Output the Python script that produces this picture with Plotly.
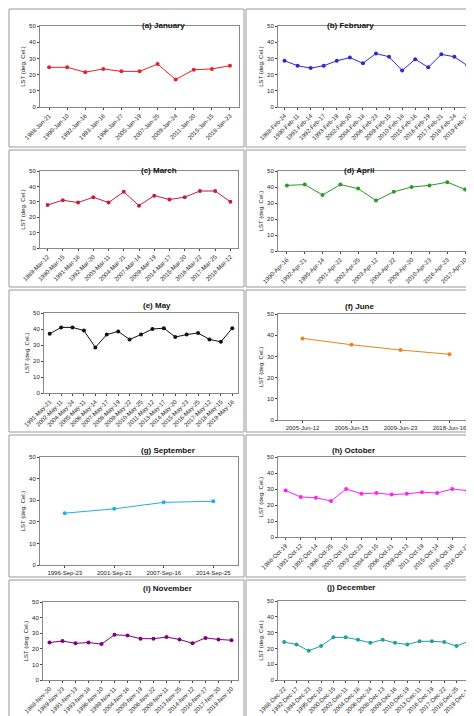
import plotly.graph_objects as go

W, H = 474, 716

jan_dates = ["1988-Jan-21", "1990-Jan-10", "1992-Jan-16", "1993-Jan-18", "1996-Jan-27", "2005-Jan-19",
             "2007-Jan-25", "2009-Jan-24", "2011-Jan-20", "2015-Jan-15", "2018-Jan-23"]
jan_lst = [24.5, 24.5, 21.5, 23.5, 22, 22, 26.5, 17, 23, 23.5, 25.5]

feb_dates = ["1988-Feb-24", "1990-Feb-11", "1991-Feb-14", "1992-Feb-17", "1993-Feb-19", "2002-Feb-20",
             "2004-Feb-18", "2006-Feb-23", "2009-Feb-15", "2010-Feb-18", "2015-Feb-16", "2016-Feb-19",
             "2017-Feb-21", "2018-Feb-24", "2019-Feb-11"]
feb_lst = [28.5, 25.5, 24, 25.5, 28.5, 30.5, 27, 33, 31, 22.5, 29.5, 24.5, 32.5, 31, 25.5]

mar_dates = ["1989-Mar-12", "1990-Mar-15", "1991-Mar-18", "1992-Mar-20", "2003-Mar-11", "2004-Mar-21",
             "2007-Mar-14", "2009-Mar-19", "2014-Mar-17", "2015-Mar-20", "2016-Mar-22", "2017-Mar-25",
             "2018-Mar-12"]
mar_lst = [28, 31, 29.5, 33, 29.5, 36.5, 27.5, 34, 31.5, 33, 37, 37, 30]

apr_dates = ["1990-Apr-16", "1992-Apr-21", "1995-Apr-14", "2001-Apr-22", "2002-Apr-25", "2003-Apr-12",
             "2004-Apr-22", "2009-Apr-20", "2010-Apr-23", "2016-Apr-23", "2017-Apr-10"]
apr_lst = [41, 41.5, 35, 41.5, 39, 31.5, 37, 40, 41, 43, 38.5]

may_dates = ["1991-May-21", "2002-May-11", "2004-May-24", "2005-May-11", "2006-May-14", "2007-May-17",
             "2008-May-19", "2009-May-22", "2010-May-25", "2011-May-12", "2013-May-17", "2014-May-20",
             "2015-May-23", "2016-May-25", "2017-May-12", "2018-May-15", "2019-May-18"]
may_lst = [37, 41, 41, 39, 28.5, 36.5, 38.5, 33.5, 36.5, 40, 40.5, 35, 36.5, 37.5, 33.5, 32, 40.5]

jun_dates = ["2005-Jun-12", "2006-Jun-15", "2009-Jun-23", "2018-Jun-16"]
jun_lst = [38.5, 35.5, 33, 31]

sep_dates = ["1996-Sep-23", "2001-Sep-21", "2007-Sep-16", "2014-Sep-25"]
sep_lst = [24, 26, 29, 29.5]

oct_dates = ["1988-Oct-19", "1991-Oct-12", "1992-Oct-14", "1996-Oct-25", "2001-Oct-15", "2003-Oct-23",
             "2004-Oct-15", "2006-Oct-21", "2009-Oct-13", "2011-Oct-19", "2015-Oct-14", "2016-Oct-16",
             "2018-Oct-22"]
oct_lst = [29, 25, 24.5, 22.5, 30, 27, 27.5, 26.5, 27, 28, 27.5, 30, 29]

nov_dates = ["1988-Nov-20", "1989-Nov-23", "1991-Nov-13", "1993-Nov-18", "1996-Nov-10", "1999-Nov-11",
             "2004-Nov-16", "2005-Nov-19", "2006-Nov-22", "2008-Nov-11", "2013-Nov-25", "2014-Nov-12",
             "2016-Nov-17", "2017-Nov-20", "2019-Nov-10"]
nov_lst = [24, 25, 23.5, 24, 23, 29, 28.5, 26.5, 26.5, 27.5, 26, 23.5, 27, 26, 25.5]

dec_dates = ["1988-Dec-22", "1992-Dec-17", "1994-Dec-23", "1995-Dec-10", "2000-Dec-15", "2002-Dec-11",
             "2004-Dec-18", "2006-Dec-24", "2008-Dec-13", "2009-Dec-16", "2010-Dec-19", "2013-Dec-11",
             "2016-Dec-19", "2017-Dec-22", "2018-Dec-25", "2019-Dec-12"]
dec_lst = [24, 22.5, 18.5, 21.5, 27, 27, 25.5, 23.5, 25.5, 23.5, 22.5, 24.5, 24.5, 24, 21.5, 24.5]

# (title, dates, values, colour, plot box in px: x0, x1, ytop, ybottom, rotated labels)
panels = [
    ("(a) January", jan_dates, jan_lst, "#e8202a", 32, 231, 18, 99, True),
    ("(b) February", feb_dates, feb_lst, "#2a2ad0", 270, 466, 18, 99, True),
    ("(c) March", mar_dates, mar_lst, "#c41e3a", 32, 230, 163, 240, True),
    ("(d) April", apr_dates, apr_lst, "#2a9a2a", 270, 466, 163, 243, True),
    ("(e) May", may_dates, may_lst, "#111111", 36, 230, 305, 385, True),
    ("(f) June", jun_dates, jun_lst, "#f08020", 270, 466, 306, 412, False),
    ("(g) September", sep_dates, sep_lst, "#20b0e0", 32, 230, 449, 557, False),
    ("(h) October", oct_dates, oct_lst, "#ff20ff", 270, 467, 449, 529, True),
    ("(i) November", nov_dates, nov_lst, "#800080", 35, 230, 594, 672, True),
    ("(j) December", dec_dates, dec_lst, "#20a0a0", 270, 467, 593, 672, True),
]

fig = go.Figure()
annotations = []
shapes = []
for i, (title, dates, vals, col, x0, x1, yt, yb, rot) in enumerate(panels):
    n = i + 1
    xa = "x" if n == 1 else f"x{n}"
    ya = "y" if n == 1 else f"y{n}"
    fig.add_trace(go.Scatter(x=list(range(len(dates))), y=vals, mode="lines+markers",
                             line=dict(color=col, width=1), marker=dict(color=col, size=4),
                             xaxis=xa, yaxis=ya, showlegend=False))
    ax = dict(domain=[x0 / W, x1 / W], anchor=ya, tickmode="array", automargin=False,
              tickvals=list(range(len(dates))), ticktext=dates,
              tickangle=-45 if rot else 0, range=[-0.5, len(dates) - 0.5],
              tickfont=dict(size=6, color="#222"), showgrid=False,
              showline=True, linecolor="#888", mirror=True, ticks="outside", ticklen=2)
    ay = dict(domain=[1 - yb / H, 1 - yt / H], anchor=xa, range=[0, 50], dtick=10,
              automargin=False,
              tickfont=dict(size=6, color="#222"), showgrid=False, zeroline=False,
              showline=True, linecolor="#888", mirror=True, ticks="outside", ticklen=2,
              title=dict(text="LST (deg. Cel.)", font=dict(size=6, color="#222"), standoff=3))
    fig.update_layout(**{("xaxis" if n == 1 else f"xaxis{n}"): ax,
                         ("yaxis" if n == 1 else f"yaxis{n}"): ay})
    annotations.append(dict(text=f"<b>{title}</b>", x=(x0 + x1) / 2 / W, y=1 - (yt - 7) / H,
                            xref="paper", yref="paper", showarrow=False,
                            font=dict(size=8, color="#111")))

# panel frames
rows = [(1, 139), (142, 279), (282, 424), (427, 569), (572, 715)]
for top, bot in rows:
    for left, right in [(1, 236), (238, 473)]:
        shapes.append(dict(type="rect", xref="paper", yref="paper", x0=left / W, x1=right / W,
                           y0=1 - bot / H, y1=1 - top / H, line=dict(color="#999", width=1)))

fig.update_layout(width=W, height=H, margin=dict(l=0, r=0, t=0, b=0),
                  paper_bgcolor="white", plot_bgcolor="white",
                  font=dict(family="Liberation Sans"),
                  annotations=annotations, shapes=shapes)

fig.write_html("out.html")
